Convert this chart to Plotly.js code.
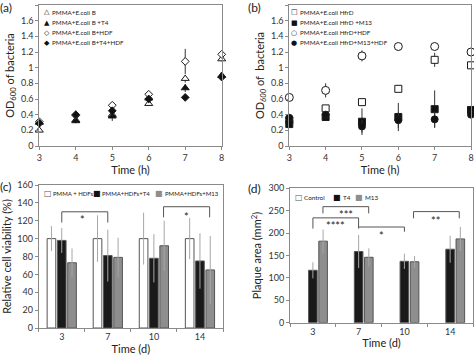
<!DOCTYPE html>
<html><head><meta charset="utf-8">
<script src="https://cdn.plot.ly/plotly-3.0.1.min.js"></script>
<style>html,body{margin:0;padding:0;background:#fff}#chart{width:474px;height:355px}</style>
</head><body><div id="chart"></div>
<script>
// ---------- data ----------
const timeH = [3, 4, 5, 6, 7, 8];
// panel (a)
const namesA = ['PMMA+E.coli B', 'PMMA+E.coli B +T4', 'PMMA+E.coli B+HDF', 'PMMA+E.coli B+T4+HDF'];
const ecoliB        = [0.20, 0.33, 0.40, 0.54, 0.86, 1.11];
const ecoliBErr     = [0.02, 0.02, 0.03, 0.03, 0.05, 0.03];
const ecoliBT4      = [0.30, 0.32, 0.38, 0.61, 0.74, 0.90];
const ecoliBT4Err   = [0.02, 0.03, 0.06, 0.03, 0.05, 0.02];
const ecoliBHDF     = [0.31, 0.39, 0.52, 0.66, 1.08, 1.17];
const ecoliBHDFErr  = [0.02, 0.03, 0.03, 0.03, 0.16, 0.03];
const ecoliBT4HDF   = [0.29, 0.40, 0.45, 0.60, 0.62, 0.88];
const ecoliBT4HDFErr= [0.02, 0.05, 0.04, 0.04, 0.03, 0.02];
// panel (b)
const namesB = ['PMMA+E.coli HfrD', 'PMMA+E.coli HfrD +M13', 'PMMA+E.coli HfrD+HDF', 'PMMA+E.coli HfrD+M13+HDF'];
const hfrD          = [0.33, 0.48, 0.56, 0.73, 1.10, 1.03];
const hfrDErr       = [0.02, 0.03, 0.02, 0.02, 0.09, 0.05];
const hfrDM13       = [0.28, 0.37, 0.31, 0.37, 0.47, 0.46];
const hfrDM13Err    = [0.03, 0.05, 0.17, 0.18, 0.24, 0.05];
const hfrDHDF       = [0.62, 0.71, 1.15, 1.27, 1.27, 1.20];
const hfrDHDFErr    = [0.02, 0.09, 0.07, 0.02, 0.04, 0.03];
const hfrDM13HDF    = [0.36, 0.40, 0.25, 0.33, 0.34, 0.40];
const hfrDM13HDFErr = [0.02, 0.03, 0.08, 0.10, 0.10, 0.03];
// panel (c)
const daysC = ['3', '7', '10', '14'];
const namesC = ['PMMA + HDFs', 'PMMA+HDFs+T4', 'PMMA+HDFs+M13'];
const viabHDF    = [100, 100, 100, 100];
const viabHDFErr = [14, 26, 29, 23];
const viabT4     = [98, 81, 78, 75];
const viabT4Err  = [14, 29, 27, 31];
const viabM13    = [73, 79, 92, 65];
const viabM13Err = [16, 22, 28, 38];
// panel (d)
const daysD = ['3', '7', '10', '14'];
const namesD = ['Control', 'T4', 'M13'];
const plaqueCtrl   = [0, 0, 0, 0];
const plaqueT4     = [117, 159, 137, 164];
const plaqueT4Err  = [18, 37, 17, 30];
const plaqueM13    = [182, 146, 136, 187];
const plaqueM13Err = [26, 20, 13, 27];

// ---------- helpers ----------
const W = 474, H = 355;
const FONT = 'Lato, "Open Sans", sans-serif';
const dx = (a, b) => [a / W, b / W];
const dy = (top, bottom) => [(H - bottom) / H, (H - top) / H];

function sc(x, y, e, xa, ya, sym, size, fill) {
  return {
    type: 'scatter', mode: 'markers', x: x, y: y, xaxis: xa, yaxis: ya, showlegend: false,
    marker: {symbol: sym, size: size, color: fill, line: {color: '#1a1a1a', width: 1}},
    error_y: {type: 'data', array: e, visible: true, color: '#333', thickness: 1, width: 0},
    cliponaxis: false
  };
}
function bar(x, y, e, xa, ya, fill, lw) {
  return {
    type: 'bar', x: x, y: y, xaxis: xa, yaxis: ya, showlegend: false,
    marker: {color: fill, line: {color: '#555', width: lw}},
    error_y: e ? {type: 'data', array: e, visible: true, color: '#a6a6a6', thickness: 1, width: 0} : undefined
  };
}

const data = [
  sc(timeH, ecoliB, ecoliBErr, 'x', 'y', 'triangle-up', 7, '#ffffff'),
  sc(timeH, ecoliBT4, ecoliBT4Err, 'x', 'y', 'triangle-up', 7, '#111111'),
  sc(timeH, ecoliBHDF, ecoliBHDFErr, 'x', 'y', 'diamond', 6, '#ffffff'),
  sc(timeH, ecoliBT4HDF, ecoliBT4HDFErr, 'x', 'y', 'diamond', 6, '#111111'),
  sc(timeH, hfrD, hfrDErr, 'x2', 'y2', 'square', 7, '#ffffff'),
  sc(timeH, hfrDM13, hfrDM13Err, 'x2', 'y2', 'square', 7, '#111111'),
  sc(timeH, hfrDHDF, hfrDHDFErr, 'x2', 'y2', 'circle', 8, '#ffffff'),
  sc(timeH, hfrDM13HDF, hfrDM13HDFErr, 'x2', 'y2', 'circle', 7, '#111111'),
  bar(daysC, viabHDF, viabHDFErr, 'x3', 'y3', '#ffffff', 1),
  bar(daysC, viabT4, viabT4Err, 'x3', 'y3', '#1a1a1a', 1),
  bar(daysC, viabM13, viabM13Err, 'x3', 'y3', '#8e8e8e', 1),
  bar(daysD, plaqueCtrl, null, 'x4', 'y4', '#ffffff', 0),
  bar(daysD, plaqueT4, plaqueT4Err, 'x4', 'y4', '#1a1a1a', 1),
  bar(daysD, plaqueM13, plaqueM13Err, 'x4', 'y4', '#8e8e8e', 1)
];

const axCommon = {
  showline: true, linecolor: '#8a8a8a', linewidth: 1, mirror: true,
  showgrid: false, zeroline: false, ticks: 'outside', ticklen: 3, tickcolor: '#8a8a8a',
  tickfont: {family: FONT, size: 9, color: '#333'}
};
const titleFont = {family: FONT, size: 11, color: '#222'};

const layout = {
  width: W, height: H, margin: {l: 0, r: 0, t: 0, b: 0},
  paper_bgcolor: '#fff', plot_bgcolor: '#fff', showlegend: false,
  font: {family: FONT, color: '#222'},
  barmode: 'group', bargap: 0.33, bargroupgap: 0.16,
  xaxis: Object.assign({}, axCommon, {domain: dx(39.3, 221.7), anchor: 'y', range: [3, 8], dtick: 1,
    title: {text: 'Time (h)', font: titleFont, standoff: 0}}),
  yaxis: Object.assign({}, axCommon, {domain: dy(5, 146), anchor: 'x', range: [0, 1.8], dtick: 0.2,
    title: {text: 'OD<sub>600</sub> of bacteria', font: titleFont, standoff: 4}}),
  xaxis2: Object.assign({}, axCommon, {domain: dx(289.3, 471), anchor: 'y2', range: [3, 8], dtick: 1,
    title: {text: 'Time (h)', font: titleFont, standoff: 0}}),
  yaxis2: Object.assign({}, axCommon, {domain: dy(5, 146), anchor: 'x2', range: [0, 1.8], dtick: 0.2,
    title: {text: 'OD<sub><i>600</i></sub> of  bacteria', font: titleFont, standoff: 4}}),
  xaxis3: Object.assign({}, axCommon, {domain: dx(38.7, 223), anchor: 'y3', type: 'category', tickson: 'boundaries',
    title: {text: 'Time (d)', font: titleFont, standoff: 0}}),
  yaxis3: Object.assign({}, axCommon, {domain: dy(185, 328), anchor: 'x3', range: [0, 160], dtick: 20,
    title: {text: 'Relative cell viability (%)', font: titleFont, standoff: 4}}),
  xaxis4: Object.assign({}, axCommon, {domain: dx(290, 473), anchor: 'y4', type: 'category', tickson: 'boundaries',
    title: {text: 'Time (d)', font: titleFont, standoff: 0}}),
  yaxis4: Object.assign({}, axCommon, {domain: dy(188.3, 322.7), anchor: 'x4', range: [0, 300], dtick: 50,
    title: {text: 'Plaque area (mm<sup>2</sup>)', font: titleFont, standoff: 4}}),
  shapes: [],
  annotations: []
};

// panel labels
[['(a)', 6, 8], ['(b)', 254, 8], ['(c)', 6, 186], ['(d)', 254, 189]].forEach(p => {
  layout.annotations.push({text: p[0], xref: 'paper', yref: 'paper', x: p[1] / W, y: (H - p[2]) / H,
    xanchor: 'center', yanchor: 'middle', showarrow: false, font: {family: FONT, size: 12, color: '#222'}});
});

// manual legends
function legendItem(sym, symColor, label, xPx, yPx, symSize, txtSize) {
  layout.annotations.push({text: sym, xref: 'paper', yref: 'paper', x: xPx / W, y: (H - yPx) / H,
    xanchor: 'center', yanchor: 'middle', showarrow: false,
    font: {family: 'DejaVu Sans', size: symSize || 7, color: symColor}});
  layout.annotations.push({text: label, xref: 'paper', yref: 'paper', x: (xPx + 3.5) / W, y: (H - yPx) / H,
    xanchor: 'left', yanchor: 'middle', showarrow: false,
    font: {family: FONT, size: txtSize || 6.3, color: '#222'}});
}
const symA = ['△', '▲', '◇', '◆'];
namesA.forEach((n, i) => legendItem(symA[i], '#111', n, 46.7, 12.3 + i * 10.2));
const symB = ['□', '■', '○', '●'];
namesB.forEach((n, i) => legendItem(symB[i], '#111', n, 294.3, 12.3 + i * 10.2));
const symCcol = ['#555', '#111', '#8e8e8e'];
const legCx = [47.7, 96.7, 159];
namesC.forEach((n, i) => legendItem(i === 0 ? '□' : '■', symCcol[i], n, legCx[i], 193.3, 8, 6));
const legDx = [298.7, 337, 359];
namesD.forEach((n, i) => legendItem(i === 0 ? '□' : '■', symCcol[i], n, legDx[i], 197.7, 8, 6.3));

// significance brackets
function bracket(xa, ya, x0, x1, yTop, yL, yR, star, sx, sy) {
  const ln = {color: '#555', width: 1};
  layout.shapes.push({type: 'line', xref: xa, yref: ya, x0: x0, x1: x1, y0: yTop, y1: yTop, line: ln});
  if (yL !== null) layout.shapes.push({type: 'line', xref: xa, yref: ya, x0: x0, x1: x0, y0: yTop, y1: yL, line: ln});
  layout.shapes.push({type: 'line', xref: xa, yref: ya, x0: x1, x1: x1, y0: yTop, y1: yR, line: ln});
  layout.annotations.push({text: star, xref: xa, yref: ya, x: sx, y: sy, xanchor: 'center', yanchor: 'middle',
    showarrow: false, font: {family: FONT, size: 11, color: '#222'}});
}
bracket('x3', 'y3', 0.001, 0.999, 130, 118, 118, '*', 0.46, 121);
bracket('x3', 'y3', 2.21, 3.21, 135.7, 123.8, 123.8, '*', 2.71, 125);
bracket('x4', 'y4', 0.001, 0.999, 234, 210, 210, '****', 0.49, 216);
bracket('x4', 'y4', 0.22, 1.22, 259, 244, 244, '***', 0.73, 242);
bracket('x4', 'y4', 0.999, 2.001, 213.6, null, 203, '*', 1.51, 195);
bracket('x4', 'y4', 2.2, 3.2, 248, 233, 233, '**', 2.69, 229);

Plotly.newPlot('chart', data, layout, {staticPlot: true, displayModeBar: false});
</script>
</body></html>
